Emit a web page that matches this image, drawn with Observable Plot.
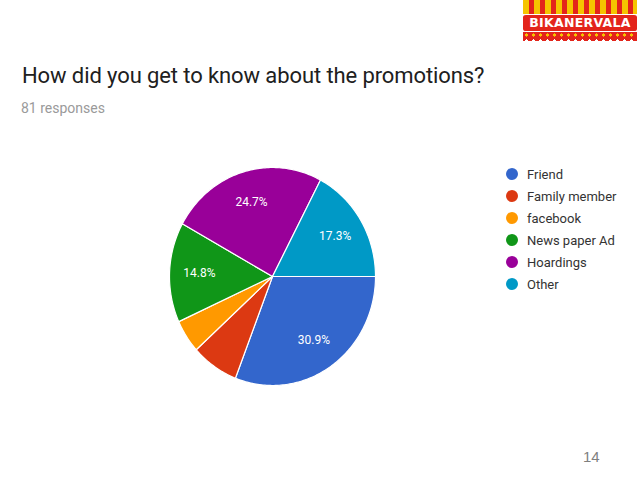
<!DOCTYPE html>
<html>
<head>
<meta charset="utf-8">
<script src="https://cdn.jsdelivr.net/npm/d3@7"></script>
<script src="https://cdn.jsdelivr.net/npm/@observablehq/plot@0.6"></script>
<style>
  html, body { margin: 0; padding: 0; background: #fff; }
  #page { position: relative; width: 638px; height: 479px; overflow: hidden; background: #fff; font-family: Roboto, "Noto Sans", sans-serif; }
  #title { position: absolute; left: 22px; top: 63px; font-size: 22px; color: #202020; white-space: nowrap; letter-spacing: -0.1px; }
  #sub { position: absolute; left: 21px; top: 100px; font-size: 14px; color: #9a9a9a; white-space: nowrap; }
  #pie { position: absolute; left: 169px; top: 167px; }
  #pie svg { overflow: visible; }
  #legend { position: absolute; left: 506px; top: 163px; font-size: 13px; color: #333; }
  .item { display: flex; align-items: center; height: 22px; }
  .dot { width: 12px; height: 12px; border-radius: 50%; margin-right: 9px; }
  #pagenum { position: absolute; left: 583px; top: 448px; font-family: "Liberation Sans", sans-serif; font-size: 15px; color: #7f7f7f; }
  #logo { position: absolute; left: 523px; top: 0; width: 114px; height: 41px; }
  #logo .stripes { height: 14px; background: repeating-linear-gradient(90deg, #f5c400 0 6px, #e3241b 6px 11px); }
  #logo .band { height: 18px; background: #e3241b; border-top: 1.5px solid #fff; border-bottom: 1.5px solid #fff; box-sizing: border-box; color: #fff; font-family: "DejaVu Sans", sans-serif; font-weight: bold; font-size: 12.5px; line-height: 15px; text-align: center; letter-spacing: 0.3px; border-radius: 3px; }
  #logo .dots { height: 6px; background: #e3241b radial-gradient(circle, #f5c400 1.4px, transparent 1.8px) 0 0 / 7px 6px repeat-x; }
  #logo .scallop { height: 3px; background: linear-gradient(135deg, #e3241b 50%, transparent 50%) 0 0 / 7px 3px repeat-x, linear-gradient(225deg, #e3241b 50%, transparent 50%) 0 0 / 7px 3px repeat-x; }
</style>
</head>
<body>
<div id="page">
  <div id="logo"><div class="stripes"></div><div class="band">BIKANERVALA</div><div class="dots"></div><div class="scallop"></div></div>
  <div id="title"></div>
  <div id="sub"></div>
  <div id="pie"></div>
  <div id="legend"></div>
  <div id="pagenum"></div>
</div>
<script>
const titleText = "How did you get to know about the promotions?";
const responses = 81;
const categories = ["Friend", "Family member", "facebook", "News paper Ad", "Hoardings", "Other"];
const counts = [25, 6, 4, 12, 20, 14];
const colors = ["#3366cc", "#dc3912", "#ff9900", "#109618", "#990099", "#0099c6"];
const pageNumber = "14";

document.getElementById("title").textContent = titleText;
document.getElementById("sub").textContent = responses + " responses";
document.getElementById("pagenum").textContent = pageNumber;

const total = d3.sum(counts);
const startAngle = 90; // degrees clockwise from 12 o'clock
const pts = [];
const labels = [];
let acc = startAngle;
categories.forEach((cat, i) => {
  const span = counts[i] / total * 360;
  const a0 = acc, a1 = acc + span;
  const n = Math.max(2, Math.ceil(span));
  pts.push({cat, x: 0, y: 0});
  for (let k = 0; k <= n; k++) {
    const a = (a0 + (a1 - a0) * k / n) * Math.PI / 180;
    pts.push({cat, x: Math.sin(a), y: Math.cos(a)});
  }
  pts.push({cat, x: 0, y: 0});
  const share = counts[i] / total;
  if (share >= 0.1) {
    const m = ((a0 + a1) / 2) * Math.PI / 180;
    labels.push({cat, x: 0.71 * Math.sin(m), y: 0.71 * Math.cos(m), text: (share * 100).toFixed(1) + "%"});
  }
  acc = a1;
});

const chart = Plot.plot({
  width: 206,
  height: 218,
  margin: 0,
  x: {domain: [-1, 1], axis: null},
  y: {domain: [-1, 1], axis: null},
  color: {domain: categories, range: colors},
  style: {background: "transparent", overflow: "visible"},
  marks: [
    Plot.line(pts, {x: "x", y: "y", z: "cat", fill: "cat", stroke: "#fff", strokeWidth: 1.2, strokeLinejoin: "round", curve: "linear"}),
    Plot.text(labels, {x: "x", y: "y", text: "text", fill: "#fff", fontSize: 12, fontFamily: "Roboto, sans-serif"})
  ]
});
document.getElementById("pie").appendChild(chart);

const legend = document.getElementById("legend");
categories.forEach((cat, i) => {
  const row = document.createElement("div");
  row.className = "item";
  const dot = document.createElement("span");
  dot.className = "dot";
  dot.style.background = colors[i];
  row.appendChild(dot);
  row.appendChild(document.createTextNode(cat));
  legend.appendChild(row);
});
</script>
</body>
</html>
